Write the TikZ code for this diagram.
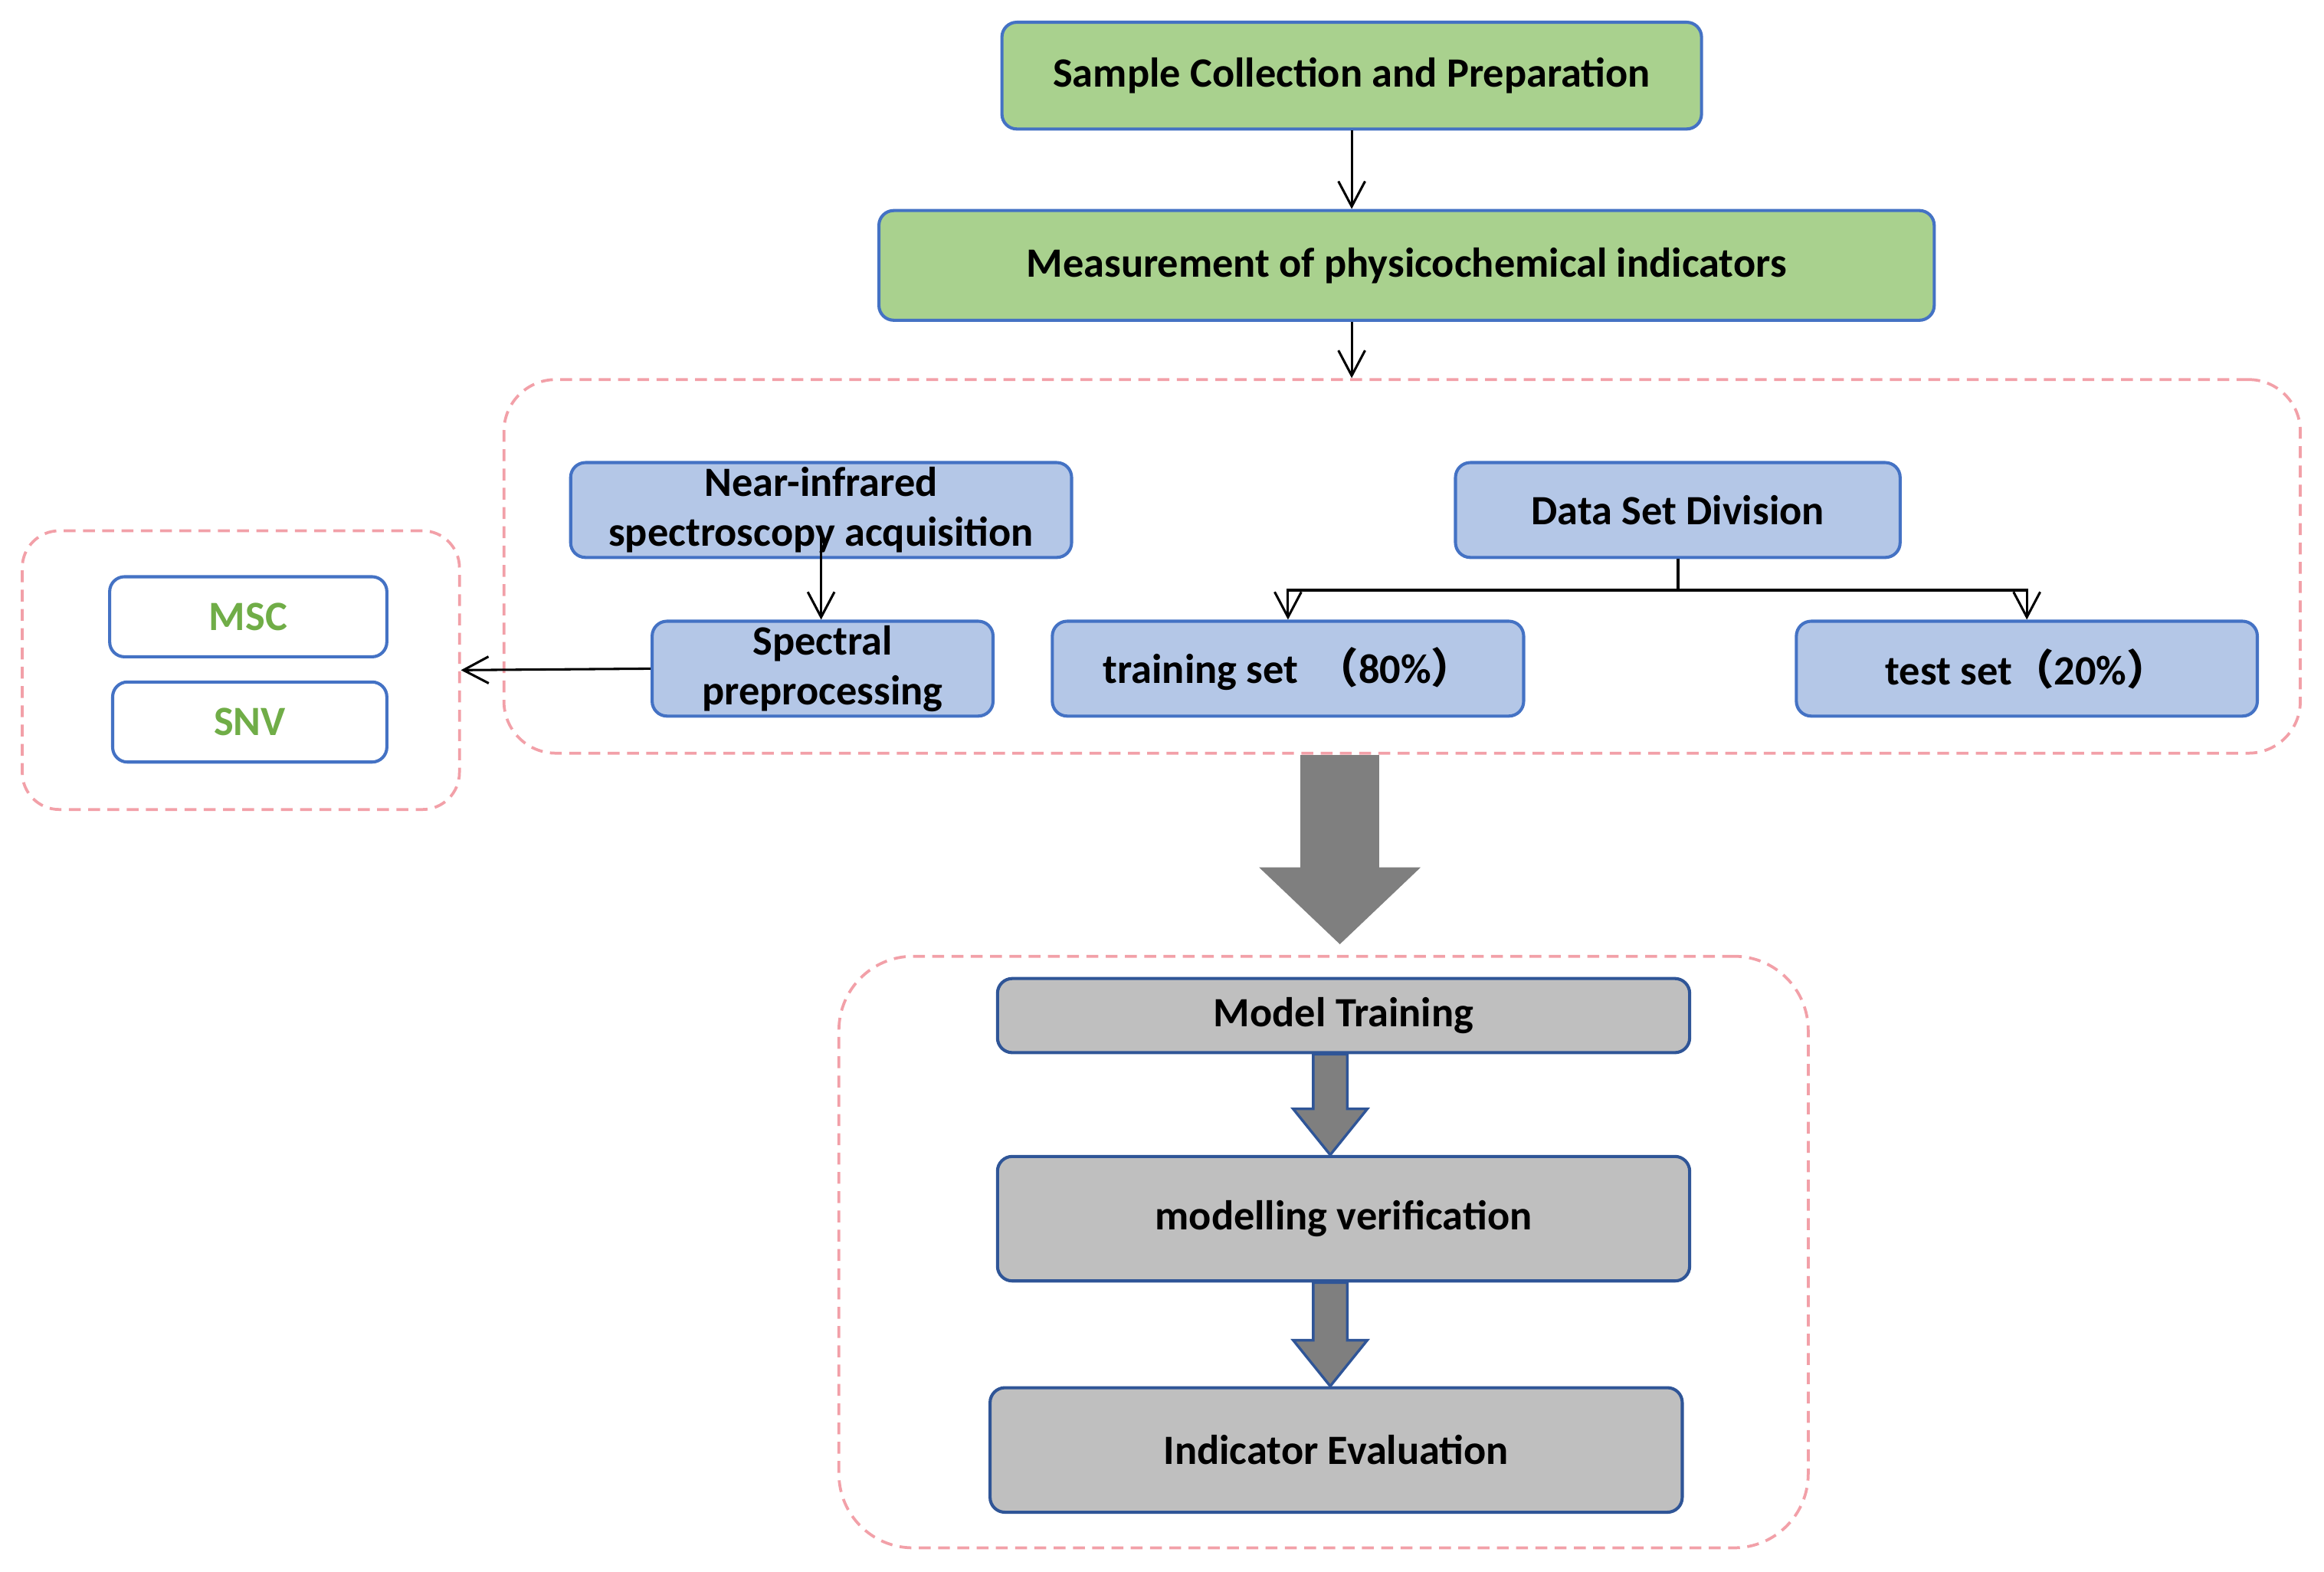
\documentclass[tikz,border=0pt]{standalone}
\usepackage{fontspec}
\setmainfont{Carlito}
\newfontfamily\cjk{Noto Sans CJK SC}
\usetikzlibrary{arrows.meta,calc}
\definecolor{edgeBlue}{HTML}{4472C4}
\definecolor{edgeDark}{HTML}{2F5597}
\definecolor{greenFill}{HTML}{A9D18E}
\definecolor{blueFill}{HTML}{B4C7E7}
\definecolor{grayFill}{HTML}{BFBFBF}
\definecolor{arrowGray}{HTML}{7F7F7F}
\definecolor{dashPink}{HTML}{F2A0A8}
\definecolor{labelGreen}{HTML}{70AD47}

% grey block arrow with blue outline, from #1 down to tip #2
\newcommand\blockarrow[2]{%
  \draw[blockarr] ($(#1)+(-11.5,0)$) -- ($(#2)+(-11.5,-31)$) -- ($(#2)+(-25,-31)$)
    -- (#2) -- ($(#2)+(25,-31)$) -- ($(#2)+(11.5,-31)$) -- ($(#1)+(11.5,0)$) -- cycle;}

\begin{document}
\begin{tikzpicture}[x=0.2mm,y=-0.2mm,
  font=\fontsize{16pt}{19pt}\selectfont\bfseries,
  box/.style={draw=edgeBlue,line width=1.2pt,rounded corners=2mm,inner sep=0pt,align=center},
  greenbox/.style={box,fill=greenFill},
  bluebox/.style={box,fill=blueFill},
  graybox/.style={box,draw=edgeDark,fill=grayFill},
  whitebox/.style={box,fill=white,text=labelGreen},
  region/.style={draw=dashPink,line width=1.1pt,dash pattern=on 1.6mm off 1mm,inner sep=0pt},
  arr/.style={line width=0.9pt,-{Straight Barb[length=3.4mm,width=3.6mm]}},
  bigarr/.style={arrowGray,line width=10.6mm,-{Triangle[length=10.4mm,width=21.2mm]}},
  blockarr/.style={draw=edgeDark,fill=arrowGray,line width=1pt,line join=miter}]
  \useasboundingbox (0,0) rectangle (1568,1060);

  % top steps
  \node[greenbox,minimum width=94.4mm,minimum height=14.4mm] (sample) at (912,51) {Sample Collection and Preparation};
  \node[greenbox,minimum width=142.4mm,minimum height=14.8mm] (meas) at (949,179) {Measurement of physicochemical indicators};

  % spectra and data set
  \node[region,rounded corners=7mm,minimum width=242.4mm,minimum height=50.4mm] (stage) at (946,382) {};
  \node[bluebox,minimum width=67.6mm,minimum height=12.8mm] (nir) at (554,344) {Near-infrared\\spectroscopy acquisition};
  \node[bluebox,minimum width=46mm,minimum height=12.8mm] (spec) at (555,451) {Spectral\\preprocessing};
  \node[bluebox,minimum width=60mm,minimum height=12.8mm] (dsd) at (1132,344) {Data Set Division};
  \node[bluebox,minimum width=63.6mm,minimum height=12.8mm] (train) at (869,451) {training set\ \ {\cjk （}80\%{\cjk ）}};
  \node[bluebox,minimum width=62.2mm,minimum height=12.8mm] (test) at (1367.5,451) {test set{\cjk （}20\%{\cjk ）}};

  % preprocessing methods
  \node[region,rounded corners=5mm,minimum width=59mm,minimum height=37.6mm] (pre) at (162.5,452) {};
  \node[whitebox,minimum width=37.4mm,minimum height=10.8mm] (msc) at (167.5,416) {MSC};
  \node[whitebox,minimum width=37mm,minimum height=10.8mm] (snv) at (168.5,487) {SNV};

  % modelling
  \node[region,rounded corners=10mm,minimum width=130.8mm,minimum height=79.8mm] (evalreg) at (893,844.5) {};
  \node[graybox,minimum width=93.4mm,minimum height=10mm] (mt) at (906.5,685) {Model Training};
  \node[graybox,minimum width=93.4mm,minimum height=16.8mm] (mv) at (906.5,822) {modelling verification};
  \node[graybox,minimum width=93.4mm,minimum height=16.8mm] (ie) at (901.5,978) {Indicator Evaluation};

  % connectors
  \draw[arr] (sample.south) -- (meas.north -| sample.south);
  \draw[arr] (meas.south -| sample.south) -- (stage.north -| sample.south);
  \draw[arr] ([yshift=3mm]nir.south) -- (spec.north -| nir.south);
  \draw[arr] (spec.west) -- (pre.east);
  \draw[line width=1.2pt] (dsd.south) -- ++(0,21) coordinate (fork);
  \draw[arr] (fork) -| (train.north);
  \draw[arr] (fork) -| (test.north);

  \coordinate (tip) at (904,637);
  \draw[bigarr] (stage.south -| tip) -- (tip);
  \coordinate (a1) at ([xshift=-1.8mm]mt.south);
  \coordinate (a2) at ([xshift=-1.8mm]mv.south);
  \blockarrow{a1}{a1 |- mv.north}
  \blockarrow{a2}{a2 |- ie.north}
\end{tikzpicture}
\end{document}
